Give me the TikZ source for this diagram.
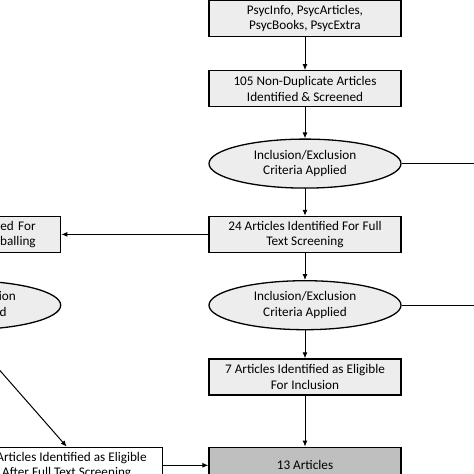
\documentclass[tikz,border=0pt]{standalone}
\usepackage{fontspec}
\setmainfont{Carlito}
\usepackage{xcolor}
\usepackage{tikz}
\usetikzlibrary{shapes.geometric,arrows.meta,positioning}
\definecolor{boxgray}{HTML}{EDEDED}
\definecolor{finalgray}{HTML}{BFBFBF}
\tikzset{
    stage/.style={rectangle, draw, line width=1.3pt, fill=boxgray, minimum width=192pt, minimum height=36pt, inner sep=2pt, align=center, font=\fontsize{13.2}{15.5}\selectfont},
    screen/.style={ellipse, draw, line width=1.3pt, fill=boxgray, minimum width=192pt, minimum height=49pt, inner sep=0pt, align=center, font=\fontsize{13.2}{15.5}\selectfont},
    result/.style={stage, fill=finalgray},
    flow/.style={-{Latex[length=6pt,width=5pt]}, line width=1pt},
    link/.style={line width=1pt},
}
\begin{document}
\begin{tikzpicture}[x=1pt, y=-1pt, node distance=27pt and 147pt]
    \useasboundingbox (0,0) rectangle (474,474);
    \clip (0,0) rectangle (474,474);
    \coordinate (rim) at (480,0);

    \node[stage] (dbs) at (305,18.5) {PsycInfo, PsycArticles,\\PsycBooks, PsycExtra};
    \node[stage, below=33pt of dbs] (dedup) {105 Non-Duplicate Articles\\Identified \& Screened};
    \node[screen, below=31pt of dedup] (crit1) {Inclusion/Exclusion\\Criteria Applied};
    \node[stage, below=of crit1] (fulltext) {24 Articles Identified For Full\\Text Screening};
    \node[screen, below=of fulltext] (crit2) {Inclusion/Exclusion\\Criteria Applied};
    \node[stage, below=28pt of crit2] (eligible) {7 Articles Identified as Eligible\\For Inclusion};
    \node[result, below=51pt of eligible] (total) {13 Articles};

    \node[stage, align=right, text width=142pt, left=of fulltext] (snow) {Articles Identified For\\Snowballing};
    \node[screen, left=of crit2] (crit3) {Inclusion/Exclusion\\Criteria Applied};
    \node[stage, fill=white, left=45pt of total] (extra) {6 Articles Identified as Eligible\\After Full Text Screening};

    \draw[flow] (dbs) -- (dedup);
    \draw[flow] (dedup) -- (crit1);
    \draw[flow] (crit1) -- (fulltext);
    \draw[flow] (fulltext) -- (crit2);
    \draw[flow] (crit2) -- (eligible);
    \draw[flow] (eligible) -- (total);
    \draw[flow] (fulltext) -- (snow);
    \draw[flow] (crit3.south) -- (extra.north);
    \draw[flow] (extra) -- (total);
    \draw[link] (crit1.east) -- (crit1.east -| rim);
    \draw[link] (crit2.east) -- (crit2.east -| rim);
\end{tikzpicture}
\end{document}
